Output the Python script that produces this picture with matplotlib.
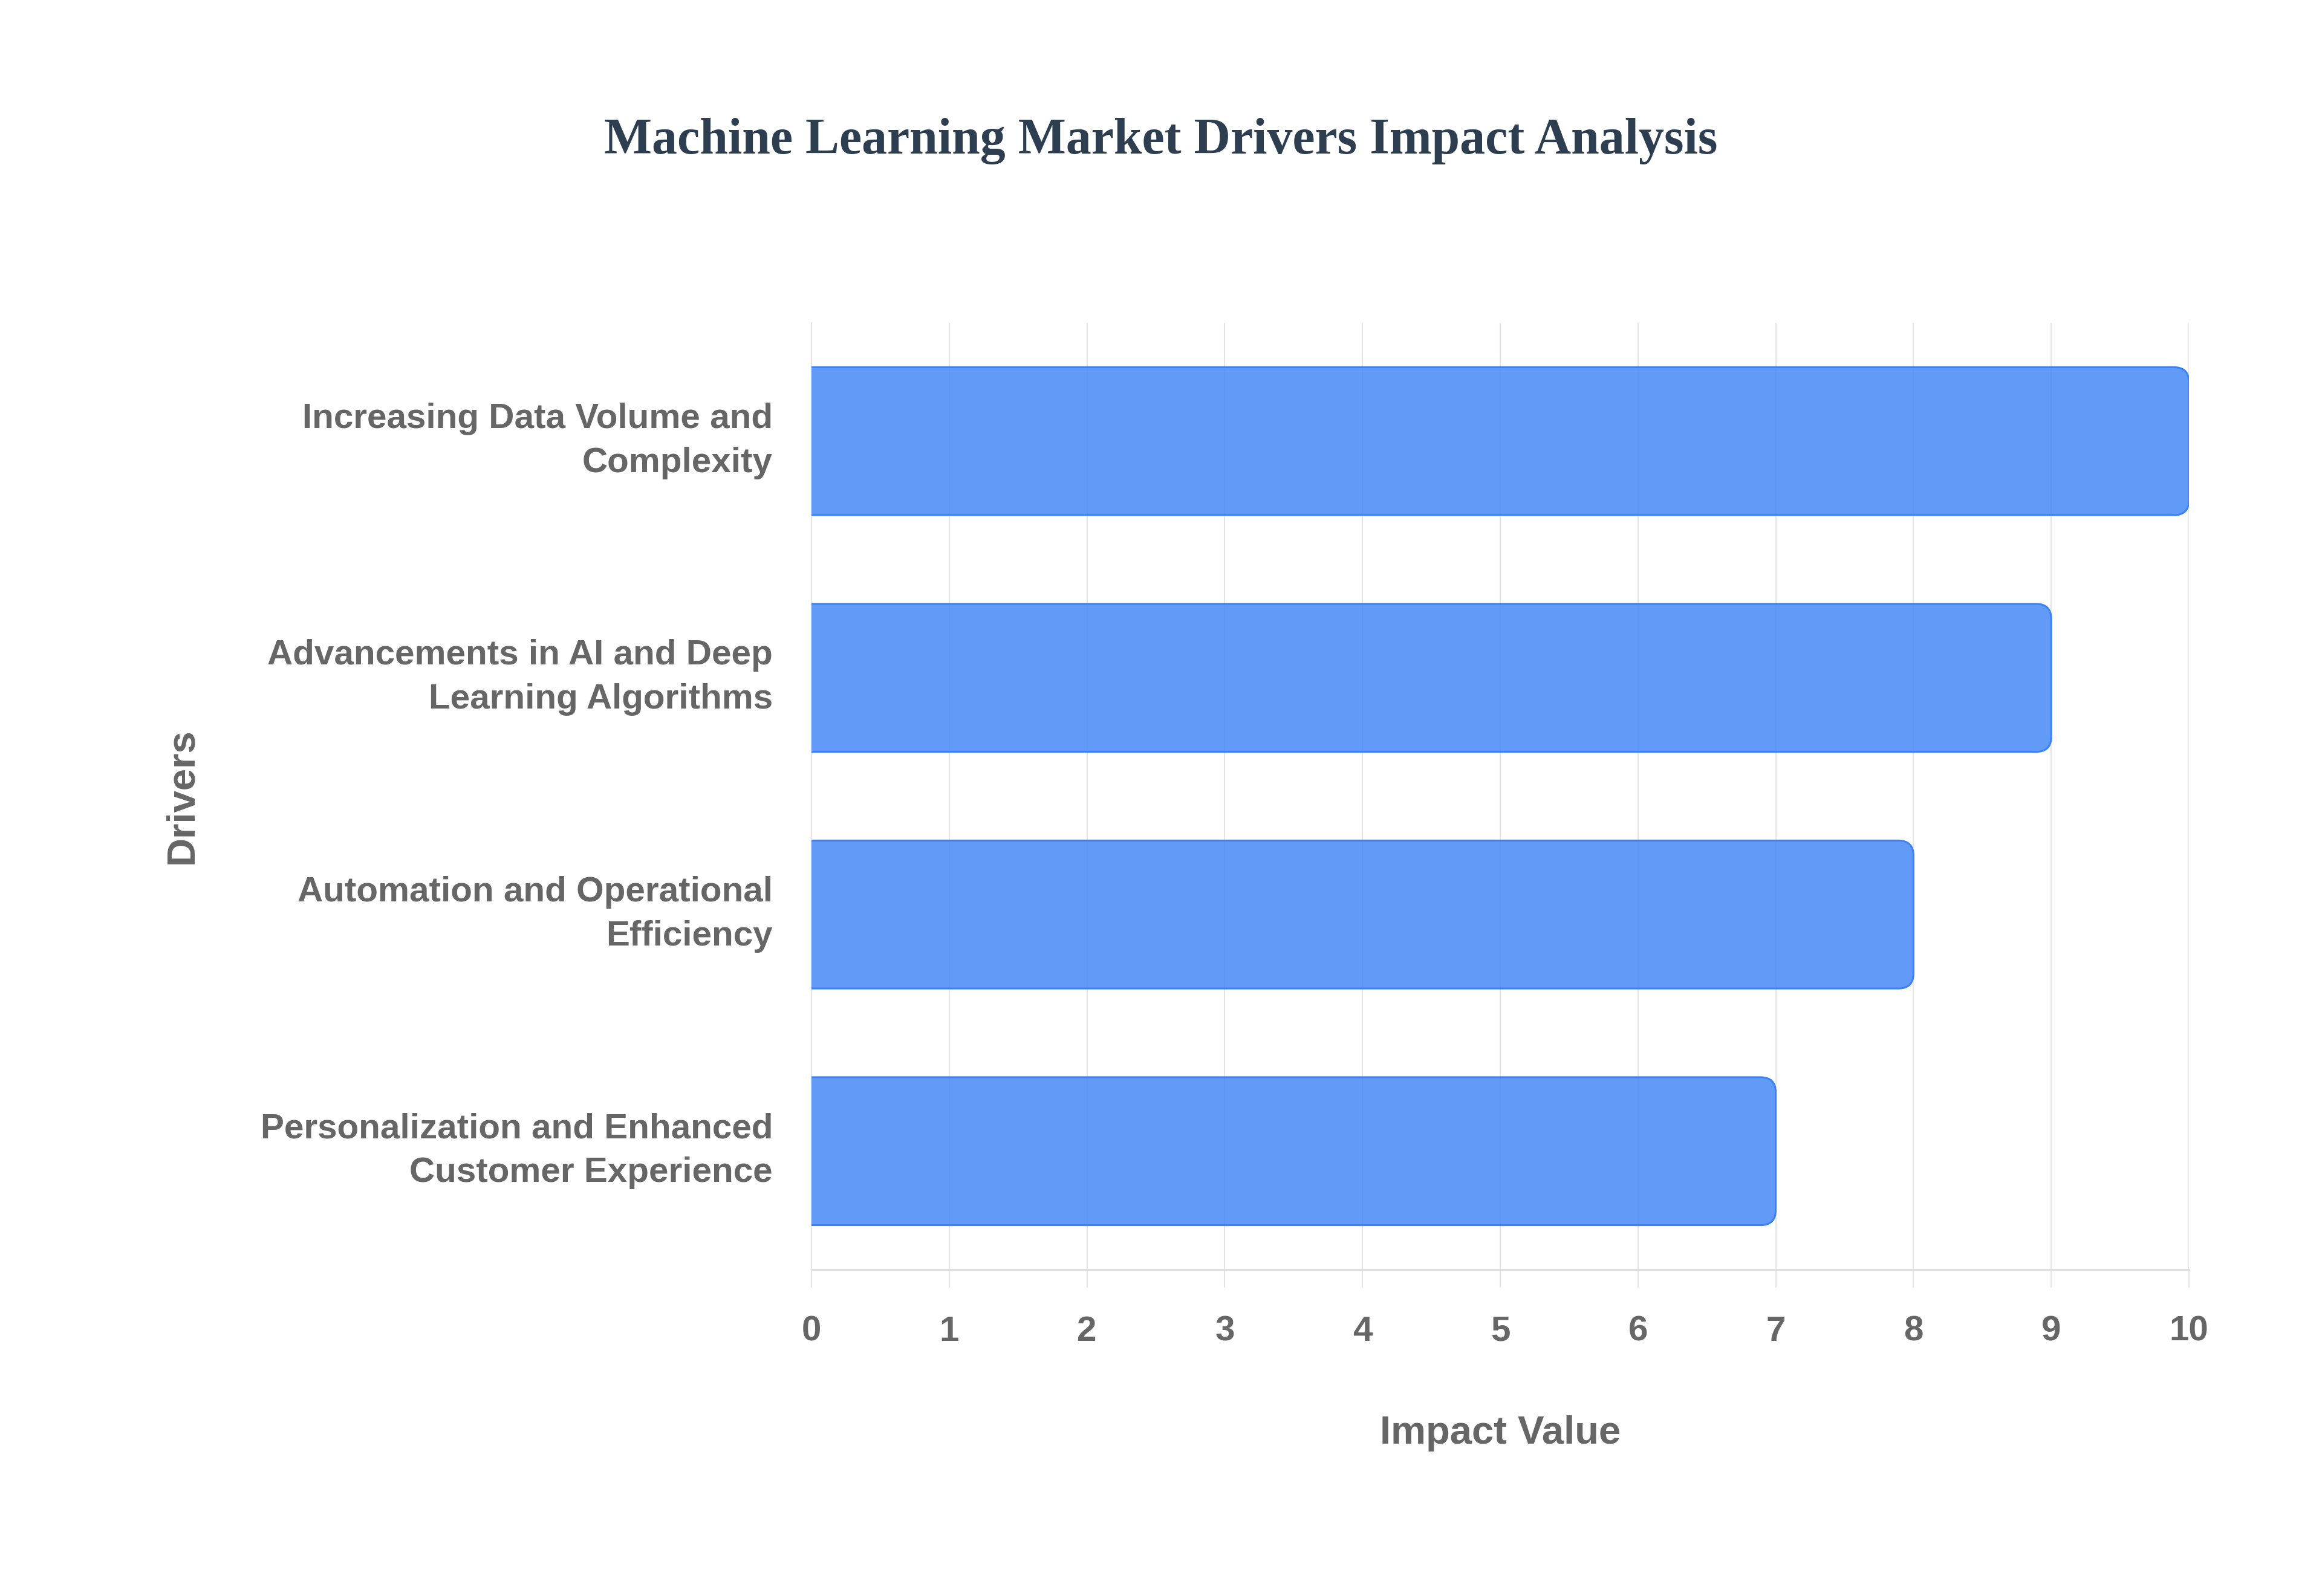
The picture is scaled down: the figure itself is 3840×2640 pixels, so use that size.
import matplotlib
matplotlib.use("Agg")
import matplotlib.pyplot as plt
from matplotlib.patches import FancyBboxPatch
from matplotlib.transforms import ScaledTranslation

categories = [
    "Increasing Data Volume and\nComplexity",
    "Advancements in AI and Deep\nLearning Algorithms",
    "Automation and Operational\nEfficiency",
    "Personalization and Enhanced\nCustomer Experience",
]
values = [10, 9, 8, 7]
x_ticks = [0, 1, 2, 3, 4, 5, 6, 7, 8, 9, 10]

title = "Machine Learning Market Drivers Impact Analysis"
x_title = "Impact Value"
y_title = "Drivers"

W, H = 3840, 2640
fig = plt.figure(figsize=(W / 100, H / 100), dpi=100)
left, right, top, bottom = 1342, 3620, 534, 2100
ax = fig.add_axes([left / W, 1 - bottom / H, (right - left) / W, (bottom - top) / H])

label_color = "#666666"
grid_color = "#e5e5e5"
bar_edge = "#3b82f6"
bar_face = (59 / 255, 130 / 255, 246 / 255, 0.8)
sans = ["Liberation Sans", "DejaVu Sans"]

ypos = list(range(len(categories)))
bars = ax.barh(ypos, values, height=0.625, color="none", edgecolor="none")

ax.set_xlim(0, 10)
ax.set_ylim(len(categories) - 0.5, -0.5)

# rounded bars (right corners) built from the bar geometry
fig.canvas.draw()
px_per_x = ax.transData.transform((1, 0))[0] - ax.transData.transform((0, 0))[0]
px_per_y = abs(ax.transData.transform((0, 1))[1] - ax.transData.transform((0, 0))[1])
r_px = 25
rx = r_px / px_per_x
ry = r_px / px_per_y
for b in bars:
    x0, y0, w, h = b.get_x(), b.get_y(), b.get_width(), b.get_height()
    p = FancyBboxPatch((x0 - rx, y0), w + rx, h,
                       boxstyle=f"round,pad=0,rounding_size={rx}",
                       mutation_aspect=ry / rx,
                       facecolor=bar_face, edgecolor=bar_edge, linewidth=2.2,
                       zorder=3, clip_on=True)
    ax.add_patch(p)
    b.set_visible(False)

ax.tick_params(axis="x", length=21.6, width=1.5, color=grid_color, pad=33)
ax.tick_params(axis="y", length=0, pad=46)

ax.set_xticks(x_ticks)
ax.set_xticklabels([str(t) for t in x_ticks], fontsize=42, fontweight="bold",
                   color=label_color, family=sans)
ax.set_yticks(ypos)
ax.set_yticklabels(categories, fontsize=42, fontweight="bold", color=label_color,
                   family=sans, ha="right", multialignment="right",
                   linespacing=1.45)
shift = ScaledTranslation(0, 16 / 100, fig.dpi_scale_trans)
for tick in ax.yaxis.get_major_ticks():
    tick.label1.set_transform(tick.label1.get_transform() + shift)

ax.grid(axis="x", color=grid_color, linewidth=1.5)
ax.grid(axis="y", visible=False)
ax.set_axisbelow(True)

for s in ["top", "right"]:
    ax.spines[s].set_visible(False)
ax.spines["left"].set_color(grid_color)
ax.spines["left"].set_linewidth(1.5)
ax.spines["bottom"].set_color("#e0e0e0")
ax.spines["bottom"].set_linewidth(2.4)

ax.set_xlabel(x_title, fontsize=47, fontweight="bold", color=label_color, family=sans)
ax.xaxis.set_label_coords(0.5, -(2371 - bottom) / (bottom - top))
ax.xaxis.label.set_verticalalignment("center")
ax.set_ylabel(y_title, fontsize=47, fontweight="bold", color=label_color, family=sans)
ax.yaxis.set_label_coords((301 - left) / (right - left), 0.5)
ax.yaxis.label.set_verticalalignment("center")

fig.text(1920 / W, 1 - 234 / H, title, ha="center", va="center", fontsize=60.3,
         fontweight="bold", color="#2c3e50",
         family=["Liberation Serif", "DejaVu Serif"])

fig.savefig("out.png", dpi=100, facecolor="white")
